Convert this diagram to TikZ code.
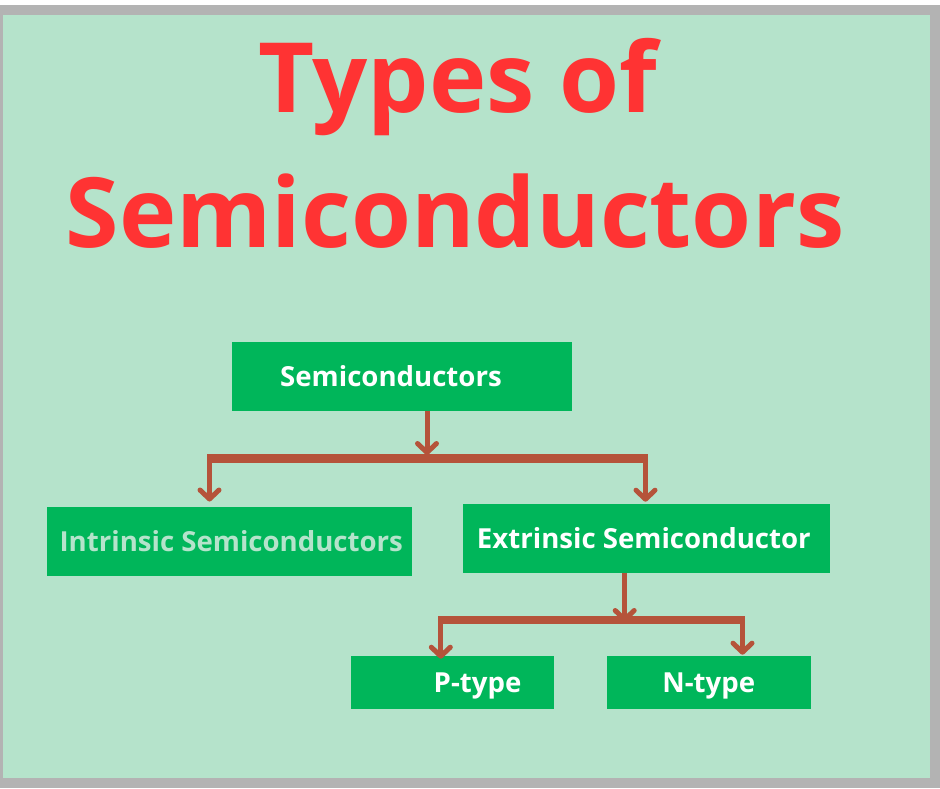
\documentclass[tikz,border=0pt]{standalone}
\usepackage{fontspec}
\setmainfont{Open Sans}
\usetikzlibrary{arrows.meta}

\definecolor{bgmint}{RGB}{181,227,203}
\definecolor{boxgreen}{RGB}{0,182,90}
\definecolor{titlered}{RGB}{255,51,51}
\definecolor{linkbrown}{RGB}{181,83,58}
\definecolor{framegray}{RGB}{179,179,179}

\tikzset{
  box/.style={fill=boxgreen, inner sep=0pt, text=white,
    font=\fontsize{27.6}{30}\selectfont\bfseries, text height=20pt, text depth=0pt},
  arr/.style={draw=linkbrown, line width=5pt,
    -{Straight Barb[length=9pt,width=19pt,round]}},
  bar/.style={draw=linkbrown, line width=9pt},
  title/.style={text=titlered, font=\fontsize{97}{100}\selectfont\bfseries,
    anchor=base, inner sep=0pt}
}

\begin{document}
\begin{tikzpicture}[x=1pt,y=-1pt]
\useasboundingbox (0,0) rectangle (940,788);
\fill[framegray] (0,5) rectangle (940,788);
\fill[bgmint] (3,15) rectangle (930,778);

\node[title] (types) at (458,112.7) {Types of};
\node[title] (semis) at (455,247.3) {Semiconductors};

\node[box, minimum width=340pt, minimum height=69pt] (semi) at (401.5,376.5) {Semiconductors\hspace*{21pt}};
\node[box, minimum width=365pt, minimum height=69pt, text=bgmint] (intr) at (229.3,541.5) {\hspace*{4pt}Intrinsic Semiconductors};
\node[box, minimum width=367pt, minimum height=69pt] (extr) at (646.4,538.7) {Extrinsic Semiconductor\hspace*{5pt}};
\node[box, minimum width=203pt, minimum height=53pt] (ptype) at (452,682.4) {\hspace*{51pt}P-type};
\node[box, minimum width=204pt, minimum height=53pt] (ntype) at (708.7,682.4) {N-type};

% first fork
\coordinate (j1) at (427,455);
\coordinate (b1l) at (209.5,458);
\coordinate (b1r) at (645.5,458);
\draw[bar] ([xshift=-2.5pt]b1l) -- ([xshift=2.5pt]b1r);
\draw[arr] (semi.south -| j1) -- (j1);
\draw[arr, shorten >=5.3pt] (b1l) -- (intr.north -| b1l);
\draw[arr, shorten >=2.3pt] (b1r) -- (extr.north -| b1r);

% second fork
\coordinate (j2) at (624.7,622);
\coordinate (b2l) at (440.8,620);
\coordinate (b2r) at (742.5,620);
\draw[bar, line width=8.5pt] ([xshift=-2.5pt]b2l) -- ([xshift=2.5pt]b2r);
\draw[arr] (extr.south -| j2) -- (j2);
\draw[arr, shorten >=-3pt] (b2l) -- (ptype.north -| b2l);
\draw[arr, shorten >=1pt] (b2r) -- (ntype.north -| b2r);
\end{tikzpicture}
\end{document}
